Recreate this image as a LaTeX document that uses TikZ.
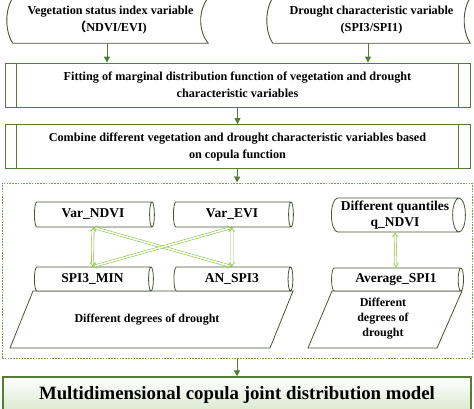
\documentclass[tikz,border=0pt]{standalone}
\usepackage{fontspec}
\setmainfont{Liberation Serif}
\newfontfamily\cjk{Noto Sans CJK SC}
\usetikzlibrary{shapes.geometric,arrows.meta}
\definecolor{boxgreen}{RGB}{84,125,52}
\definecolor{outl}{RGB}{70,85,55}
\definecolor{dashgreen}{RGB}{112,160,70}
\definecolor{lightg}{RGB}{140,200,60}
\definecolor{fillg}{RGB}{215,232,205}
\tikzset{
  txt/.style={font=\bfseries\fontsize{12.2}{17}\selectfont, align=center, inner sep=0pt},
  stored/.style={txt, minimum width=195pt, minimum height=45pt},
  procbox/.style={txt, minimum width=465pt, minimum height=44pt, draw=boxgreen, line width=0.8pt},
  arr/.style={draw=boxgreen, line width=1pt, -{Triangle[width=6pt,length=6pt]}},
  cyl/.style={cylinder, shape aspect=0.45, draw=outl, line width=0.8pt, fill=white,
    font=\bfseries\fontsize{13.5}{16}\selectfont, align=center, inner sep=0pt},
  dbl/.style={draw=lightg, double=white, double distance=1.6pt, line width=0.6pt, {Implies}-{Implies}},
  para/.style={draw=outl, line width=0.8pt},
  small/.style={font=\bfseries\fontsize{12}{15}\selectfont, align=center, inner sep=0pt},
}
\begin{document}
\begin{tikzpicture}[x=1pt,y=-1pt]
\useasboundingbox (0,0) rectangle (474,408);
% top stored-data nodes
\node[stored] (veg) at (110.5,20.5) {Vegetation status index variable\\{\cjk （}NDVI/EVI)};
\draw[draw=outl, line width=0.9pt] (veg.north west) -- (veg.north east)
  .. controls +(-10,12) and +(-10,-12) .. (veg.south east) -- (veg.south west)
  .. controls +(-8,-12) and +(-8,12) .. (veg.north west) -- cycle;
\node[stored, minimum width=197pt] (dro) at (371.5,20.5) {Drought characteristic variable\\(SPI3/SPI1)};
\draw[draw=outl, line width=0.9pt] (dro.north west) -- (dro.north east)
  .. controls +(-8,12) and +(-8,-12) .. (dro.south east) -- (dro.south west)
  .. controls +(-8,-12) and +(-8,12) .. (dro.north west) -- cycle;
% process boxes
\node[procbox] (fit) at (237.5,85) {Fitting of marginal distribution function of vegetation and drought\\characteristic variables};
\draw[boxgreen, line width=0.8pt] ([xshift=12pt]fit.north west) -- ([xshift=12pt]fit.south west)
  ([xshift=-12pt]fit.north east) -- ([xshift=-12pt]fit.south east);
\node[procbox] (comb) at (237.5,146.5) {Combine different vegetation and drought characteristic variables based\\on copula function};
\draw[boxgreen, line width=0.8pt] ([xshift=12pt]comb.north west) -- ([xshift=12pt]comb.south west)
  ([xshift=-12pt]comb.north east) -- ([xshift=-12pt]comb.south east);
% dashed frame
\node[draw=dashgreen, line width=0.9pt, dash pattern=on 1.6pt off 1.2pt, minimum width=470pt, minimum height=175pt, inner sep=0pt] (frame) at (237,270.5) {};
% bottom box
\node[draw=boxgreen, line width=1.2pt, top color=white, bottom color=fillg, minimum width=468pt, minimum height=36pt, inner sep=0pt,
  font=\bfseries\fontsize{18.8}{21}\selectfont] (model) at (237,395) {\raisebox{4pt}{Multidimensional copula joint distribution model}};
% parallelograms
\draw[para] (33,291) -- (293,291) -- (270,348) -- (10,348) -- cycle;
\node[small] (deg) at (147,320) {Different degrees of drought};
\draw[para] (332,291) -- (462,291) -- (437,348) -- (308,348) -- cycle;
\node[small] (deg2) at (383,319) {Different\\degrees of\\drought};
% cylinders
\node[cyl, minimum width=25pt, minimum height=120pt] (vndvi) at (93,214.5) {Var\_NDVI};
\node[cyl, minimum width=25pt, minimum height=120pt] (vevi) at (232,214.5) {Var\_EVI};
\node[cyl, minimum width=34pt, minimum height=134pt] (qndvi) at (395,215) {Different quantiles\\q\_NDVI};
\node[cyl, minimum width=24pt, minimum height=119pt] (spimin) at (92.5,279) {SPI3\_MIN};
\node[cyl, minimum width=24pt, minimum height=119pt] (anspi) at (232,279) {AN\_SPI3};
\node[cyl, minimum width=23pt, minimum height=132pt] (avg) at (396,279.5) {Average\_SPI1};
% double arrows
\draw[dbl] (vndvi.south) -- (spimin.north);
\draw[dbl] (vevi.south) -- (anspi.north);
\draw[dbl] (vndvi.south) -- (anspi.north);
\draw[dbl] (vevi.south) -- (spimin.north);
\draw[dbl] (qndvi.south) -- (avg.north);
% flow arrows
\draw[arr] (veg.south -| 107,0) -- (fit.north -| 107,0);
\draw[arr] (dro.south -| 368,0) -- (fit.north -| 368,0);
\draw[arr] (fit.south) -- (comb.north);
\draw[arr] (comb.south) -- (frame.north);
\draw[arr] (frame.south) -- (model.north);
\end{tikzpicture}
\end{document}
